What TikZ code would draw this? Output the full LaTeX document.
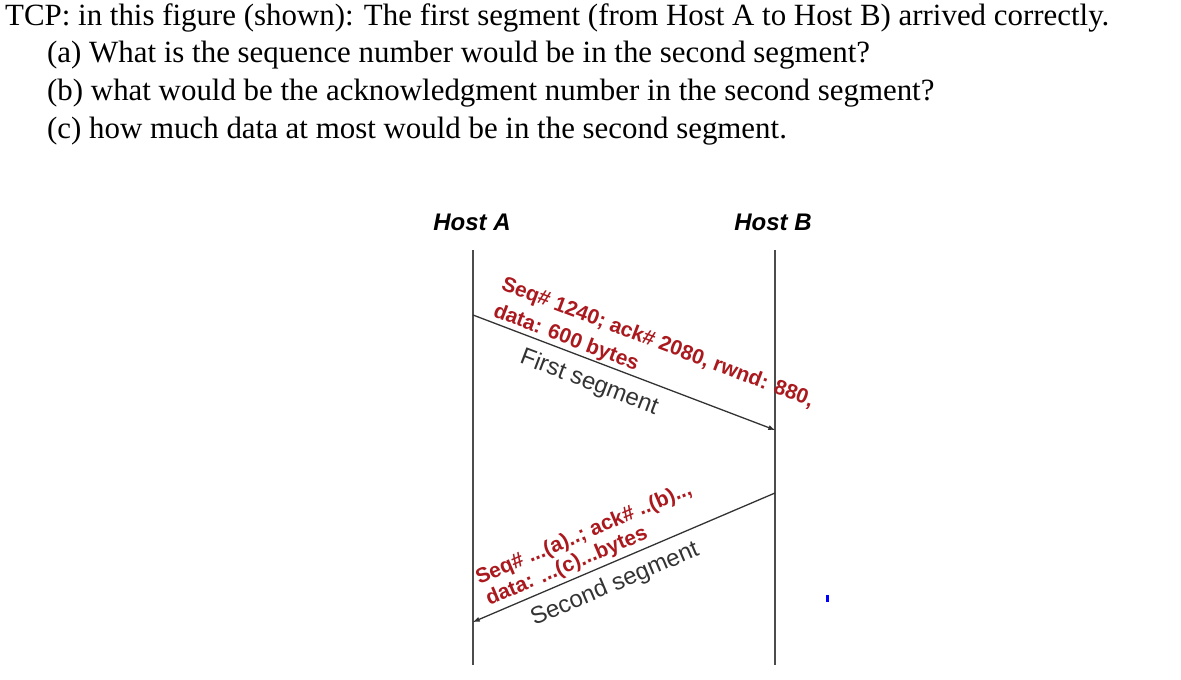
\documentclass[tikz,border=0pt]{standalone}
\usepackage{fontspec}
\setmainfont{Liberation Serif}
\newfontfamily\arial{Liberation Sans}
\begin{document}
\begin{tikzpicture}[x=1pt,y=-1pt,
  title/.style={anchor=west,inner sep=0pt,font=\fontsize{30.9}{34}\selectfont},
  host/.style={inner sep=0pt,font=\arial\bfseries\itshape\fontsize{24}{28}\selectfont},
  red/.style={anchor=west,inner sep=0pt,text=darkred,font=\arial\bfseries\fontsize{21}{24}\selectfont},
  seg/.style={anchor=west,inner sep=0pt,text=black!80,font=\arial\fontsize{24}{28}\selectfont},
  life/.style={draw=black!70,line width=1.6pt},
  msg/.style={draw=black!80,line width=1.3pt,-latex}]
\definecolor{darkred}{RGB}{170,25,30}
\useasboundingbox (0,0) rectangle (1181,680);
\node[title] (t1) at (5,18) {TCP: in this figure (shown): The first segment (from Host A to Host B) arrived correctly.};
\node[title] (t2) at (47,55) {(a) What is the sequence number would be in the second segment?};
\node[title] (t3) at (47,93) {(b) what would be the acknowledgment number in the second segment?};
\node[title] (t4) at (47,131) {(c) how much data at most would be in the second segment.};
\node[host] (ha) at (472,222) {Host A};
\node[host] (hb) at (773,222) {Host B};
\coordinate (a0) at (473,250); \coordinate (a1) at (473,665);
\coordinate (b0) at (775,250); \coordinate (b1) at (775,665);
\draw[life] (a0) -- (a1);
\draw[life] (b0) -- (b1);
\coordinate (m1s) at (473,315); \coordinate (m1e) at (775,430);
\coordinate (m2s) at (775,493); \coordinate (m2e) at (473,622);
\draw[msg] (m1s) -- (m1e);
\draw[msg] (m2s) -- (m2e);
\node[red,rotate=-20.8] (s1) at (502,284) {Seq\# 1240; ack\# 2080, rwnd: 880,};
\node[red,rotate=-20.8] (d1) at (494,311) {data: 600 bytes};
\node[seg,rotate=-20.8] (f1) at (521,357) {First segment};
\node[red,rotate=23.1] (s2) at (477,580) {Seq\# ...(a)..; ack\# ..(b)..,};
\node[red,rotate=23.1] (d2) at (487,601) {data: ...(c)...bytes};
\node[seg,rotate=23.1] (f2) at (532,620) {Second segment};
\fill[blue] (826,595) rectangle (829,602);
\end{tikzpicture}
\end{document}
